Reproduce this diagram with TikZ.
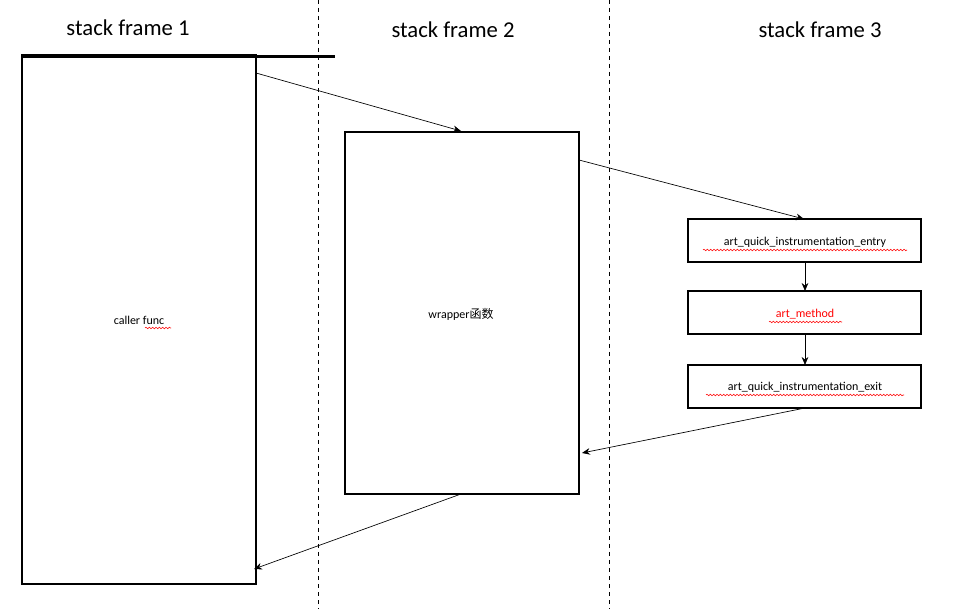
\documentclass[tikz,border=0pt]{standalone}
\usepackage{fontspec}
\setmainfont{Carlito}
\newfontfamily\cjk{Noto Sans CJK SC}
\usetikzlibrary{arrows.meta,decorations.pathmorphing}
\begin{document}
\begin{tikzpicture}[x=0.75pt,y=-0.75pt,
  box/.style={draw,line width=1pt,inner sep=0pt},
  title/.style={font=\fontsize{17}{20}\selectfont},
  lab/.style={font=\fontsize{9}{11}\selectfont},
  arr/.style={-{Stealth[length=6pt,width=5pt]},line width=0.5pt},
  wavy/.style={red,line width=0.4pt,decorate,decoration={snake,amplitude=0.6pt,segment length=2.5pt}}]
\useasboundingbox (0,0) rectangle (968,609);
\draw[dashed,line width=0.5pt] (318,0) -- (318,609);
\draw[dashed,line width=0.5pt] (609,0) -- (609,609);
\node[title] (t1) at (128,28) {stack frame 1};
\node[title] (t2) at (453,30) {stack frame 2};
\node[title] (t3) at (820,30) {stack frame 3};
\node[box,minimum width=234\pgflinewidth,anchor=north west] (f1) at (22,55) {};
\path (22,55) coordinate (f1nw) (256,584) coordinate (f1se);
\draw[line width=1pt] (f1nw) rectangle (f1se);
\path (345,132) coordinate (f2nw) (579,494) coordinate (f2se);
\draw[line width=1pt] (f2nw) rectangle (f2se);
\path (688,219) coordinate (e1) (921,262) coordinate (e2);
\path (688,291) coordinate (m1) (921,334) coordinate (m2);
\path (688,365) coordinate (x1) (921,408) coordinate (x2);
\draw[line width=1pt] (e1) rectangle (e2);
\draw[line width=1pt] (m1) rectangle (m2);
\draw[line width=1pt] (x1) rectangle (x2);
\node[lab] (c1) at (139,320) {caller func};
\node[lab] (c2) at (461,314) {wrapper{\cjk 函数}};
\node[lab] (ce) at (805,242) {art\_quick\_instrumentation\_entry};
\node[lab,red] (cm) at (805,314) {art\_method};
\node[lab] (cx) at (805,387) {art\_quick\_instrumentation\_exit};
\draw[wavy] (145,328) -- (171,328);
\draw[wavy] (703,250) -- (907,250);
\draw[wavy] (769,322) -- (842,322);
\draw[wavy] (706,395) -- (904,395);
\coordinate (a1) at (256,73); \coordinate (a1e) at (461,131);
\coordinate (a2) at (579,160); \coordinate (a2e) at (804,219);
\coordinate (a5) at (805,408); \coordinate (a5e) at (582,453);
\coordinate (a6) at (461,494); \coordinate (a6e) at (254,569);
\draw[arr] (a1) -- (a1e);
\draw[arr] (a2) -- (a2e);
\draw[arr] (805,262) -- (805,291);
\draw[arr] (805,334) -- (805,365);
\draw[arr] (a5) -- (a5e);
\draw[arr] (a6) -- (a6e);
\end{tikzpicture}
\end{document}
